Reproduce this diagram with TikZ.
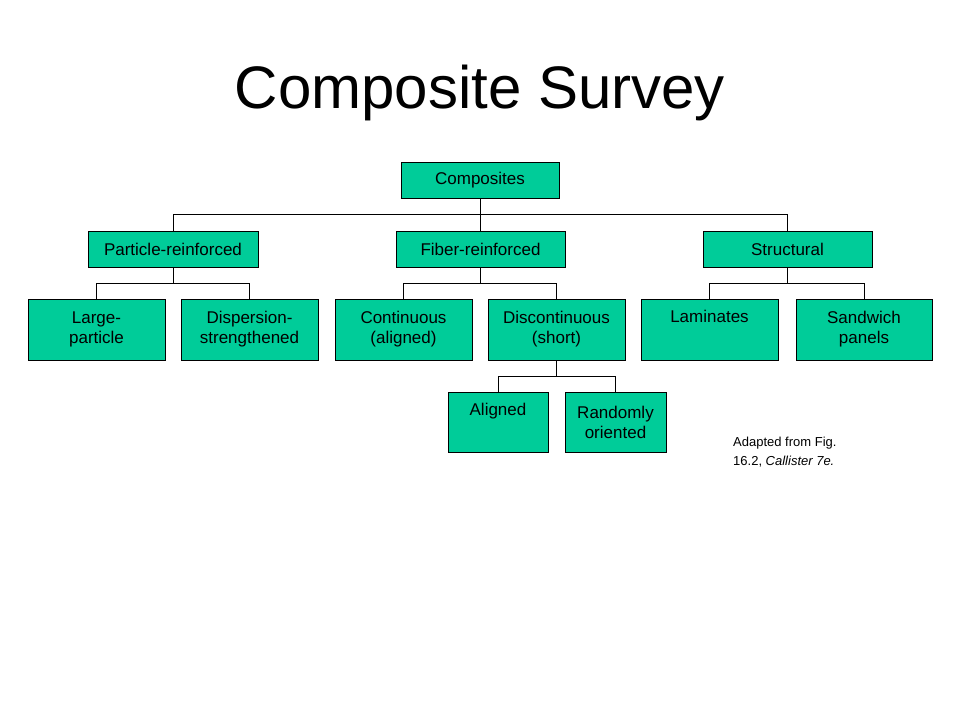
\documentclass[tikz,border=0pt]{standalone}
\usepackage{fontspec}
\setmainfont{Liberation Sans}
\usetikzlibrary{positioning}
\definecolor{boxgreen}{HTML}{00CC99}
\tikzset{
    every node/.style={font=\fontsize{17}{20}\selectfont},
    box/.style={draw, thin, fill=boxgreen, inner sep=0pt, align=center, minimum height=36pt},
    leaf/.style={box, minimum height=61pt},
    link/.style={draw, thin},
}
\begin{document}
\begin{tikzpicture}[x=1pt,y=1pt]
    \useasboundingbox (0,0) rectangle (960,-720);
    \node[font=\fontsize{60}{64}\selectfont] (title) at (480,-93) {Composite Survey};
    % level 1 and 2
    \node[box, minimum width=158pt] (comp) at (480,-180) {Composites};
    \node[box, minimum width=170pt] (part) at (173,-249) {Particle-reinforced};
    \node[box, minimum width=169pt] (fib) at (480.5,-249) {Fiber-reinforced};
    \node[box, minimum width=169pt] (struc) at (787.5,-249) {Structural};
    % level 3
    \node[leaf, minimum width=137pt] (large) at (96.5,-329.5) {Large-\\particle};
    \node[leaf, minimum width=137pt] (disp) at (249.5,-329.5) {Dispersion-\\strengthened};
    \node[leaf, minimum width=137pt] (cont) at (403.5,-329.5) {Continuous\\(aligned)};
    \node[leaf, minimum width=137pt] (disc) at (556.5,-329.5) {Discontinuous\\(short)};
    \node[leaf, minimum width=137pt] (lam) at (709.5,-329.5) {Laminates\\\strut};
    \node[leaf, minimum width=136pt] (sand) at (864,-329.5) {Sandwich\\panels};
    % level 4
    \node[leaf, minimum width=100pt, minimum height=60pt] (alig) at (498,-422) {Aligned\\\strut};
    \node[leaf, minimum width=101pt, minimum height=60pt] (rand) at (615.5,-422) {Randomly\\oriented};
    % connectors
    \foreach \c in {part,fib,struc}
        \path[link] (comp.south) -- ++(0,-16) -| (\c.north);
    \foreach \p/\c in {part/large,part/disp,fib/cont,fib/disc,struc/lam,struc/sand,disc/alig,disc/rand}
        \path[link] (\p.south) -- ++(0,-16) -| (\c.north);
    \node[anchor=north west, align=left, inner sep=0pt, font=\fontsize{13}{19}\selectfont] (note) at (733,-437)
        {Adapted from Fig.\\16.2, \textit{Callister 7e.}};
\end{tikzpicture}
\end{document}
